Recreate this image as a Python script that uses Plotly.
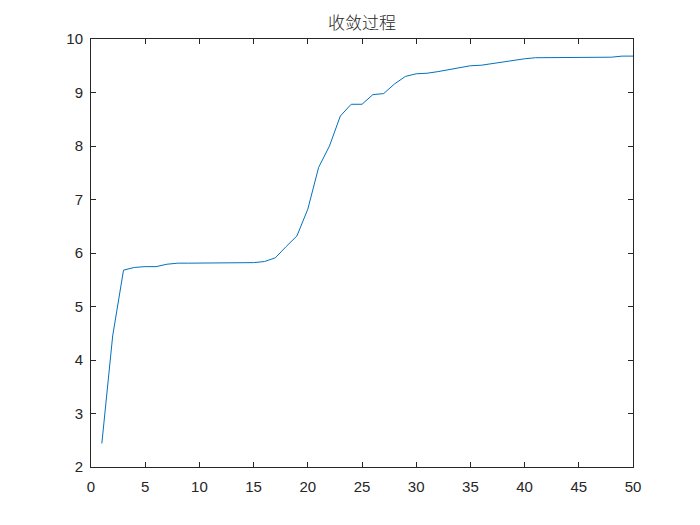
import plotly.graph_objects as go

iterations = list(range(1, 51))
fitness = [2.44, 4.45, 5.68, 5.73, 5.745, 5.745, 5.79, 5.81, 5.81, 5.81,
           5.81, 5.815, 5.82, 5.82, 5.82, 5.84, 5.91, 6.12, 6.32, 6.82,
           7.60, 8.00, 8.56, 8.78, 8.78, 8.96, 8.98, 9.16, 9.30, 9.35,
           9.36, 9.39, 9.43, 9.47, 9.50, 9.51, 9.54, 9.58, 9.60, 9.63,
           9.65, 9.65, 9.65, 9.65, 9.65, 9.66, 9.66, 9.66, 9.68, 9.68]

x_ticks = [0, 5, 10, 15, 20, 25, 30, 35, 40, 45, 50]
y_ticks = [2, 3, 4, 5, 6, 7, 8, 9, 10]
title_text = "收敛过程"

fig = go.Figure()
fig.add_trace(go.Scatter(x=iterations, y=fitness, mode="lines",
                         line=dict(color="#0072BD", width=1)))

axis_common = dict(showgrid=False, zeroline=False, showline=True, linecolor="#262626",
                   linewidth=1, mirror="ticks", ticks="inside", ticklen=5,
                   tickcolor="#262626",
                   tickfont=dict(family="Liberation Sans, Arial", size=15, color="#262626"))

fig.update_layout(
    width=700, height=525,
    paper_bgcolor="white", plot_bgcolor="white",
    margin=dict(l=83, r=75, t=31, b=66),
    showlegend=False,
    title=dict(text=title_text, x=0.5, xref="paper", xanchor="center", y=1, yref="paper",
               yanchor="bottom", pad=dict(b=10),
               font=dict(family="Noto Sans CJK SC", size=17, color="#262626", weight=300)),
    xaxis=dict(range=[0, 50], tickvals=x_ticks, ticklabelstandoff=6, **axis_common),
    yaxis=dict(range=[2, 10], tickvals=y_ticks, ticklabelstandoff=4, **axis_common),
)

fig.write_html("out.html")
